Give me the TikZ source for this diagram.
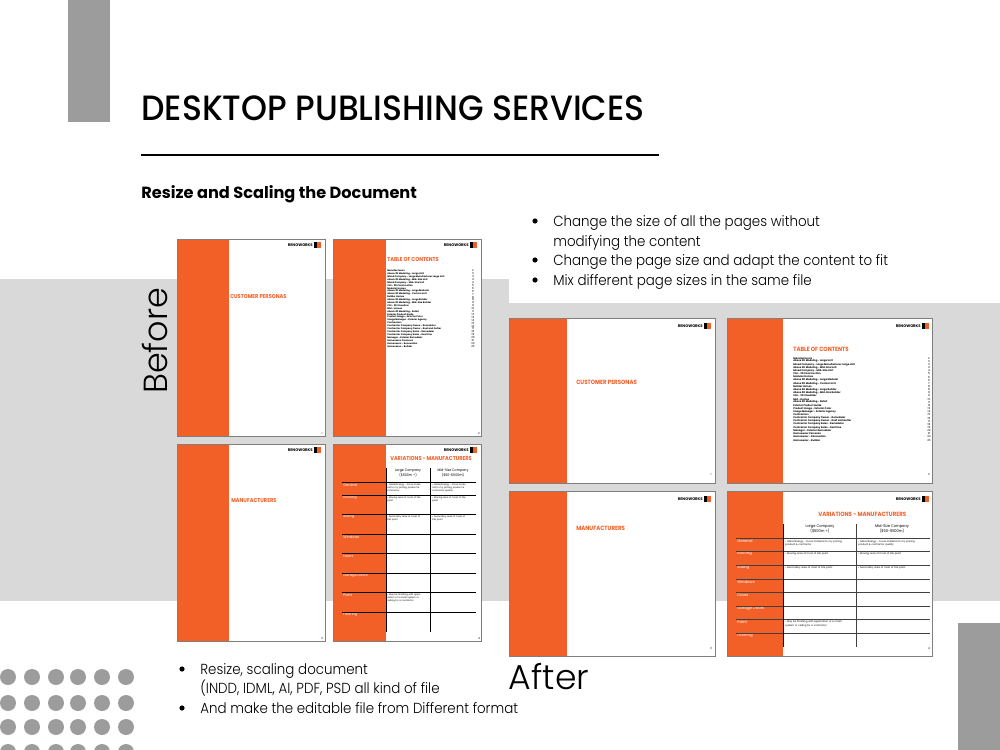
\documentclass[tikz,border=0pt]{standalone}
\usepackage{fontspec}
\setmainfont{Poppins}
\newfontfamily\lightfont{Poppins Light}
\newfontfamily\mediumfont{Poppins Medium}
\usepackage{tikz}

\definecolor{bandgray}{HTML}{D9D9D9}
\definecolor{blockgray}{HTML}{9C9C9C}
\definecolor{pageorange}{HTML}{F26027}
\definecolor{pageedge}{HTML}{7F7F7F}

\tikzset{
  pagebox/.style={draw=pageedge, fill=white, line width=0.45pt},
  pagebar/.style={fill=pageorange},
  headtext/.style={text=pageorange, inner sep=0pt, anchor=west, xscale=0.9, font=\bfseries\fontsize{#1}{#1}\selectfont},
  bullettext/.style={inner sep=0pt, anchor=base west, xscale=0.92, font=\lightfont\fontsize{8.3}{10}\selectfont},
  rowtext/.style={text=white, inner sep=0pt, anchor=west, font=\fontsize{#1}{#1}\selectfont},
  toctext/.style={inner sep=0pt, anchor=west, font=\bfseries\fontsize{#1}{#1}\selectfont},
  cellsmall/.style={inner sep=0pt, anchor=north west, align=left, text width=20pt, font=\fontsize{1.3}{1.8}\selectfont},
  celllarge/.style={inner sep=0pt, anchor=north west, align=left, text width=34pt, font=\fontsize{1.4}{1.9}\selectfont},
  headcell/.style={inner sep=0pt, align=center, xscale=0.92, font=\fontsize{#1}{2.8}\selectfont},
  numtext/.style={inner sep=0pt, font=\fontsize{1.6}{1.6}\selectfont},
}

\newcommand{\pagelogo}[4]{%
  \node[inner sep=0pt, anchor=east, font=\bfseries\fontsize{#4}{#4}\selectfont] (#1) at (#2,#3) {RENOWORKS};
  \fill[black] ([xshift=0.6pt,yshift=-1.6pt]#1.east) rectangle ++(1.8pt,3.4pt);
  \fill[pageorange] ([xshift=2.4pt,yshift=-1.6pt]#1.east) rectangle ++(2pt,3.4pt);
}

\newcommand{\toclist}{Manufacturers/2,Above 3D Modeling - Large Unit/3,Mixed Company - Large Manufacturer Large Unit/3,Above 3D Modeling - Mid-Size Unit/4,Mixed Company - Mid-Size Unit/4,CGI - 3D Construction/5,Modular Homes/6,Above 3D Modeling - Large Modular/6,Above 3D Modeling - Custom Unit/7,Builder Homes/8,Above 3D Modeling - Large Builder/8,Above 3D Modeling - Mid-Size Builder/9,CGI - 3D Visualizer/9,Mid - Homes/10,Above 3D Modeling - Retail/11,Exterior Product Guide/12,Product Image - Exterior Color/13,Image Manager - Exterior Agency/14,Contractors/15,Contractor Company Owner - Remodeler/16,Contractor Company Owner - Roof and Gutter/17,Contractor Company Sales - Remodeler/18,Contractor Company Sales - Roof Line/19,Manager - Exterior Remodeler/20,Homeowner Personas/21,Homeowner - Renovation/22,Homeowner - Builder/23}

\begin{document}
\begin{tikzpicture}[x=0.02cm, y=-0.02cm]
\useasboundingbox (0,0) rectangle (1000,750);
\fill[white] (0,0) rectangle (1000,750);

% Background Bands
\fill[bandgray] (0,279) rectangle (509,601);
\fill[bandgray] (509,303) rectangle (1000,601);
\fill[blockgray] (68,0) rectangle (110,122);
\fill[blockgray] (958,623) rectangle (1000,750);

% Dot Grid
\foreach \dotx in {8,32,56,78,102,126}
  \foreach \doty in {677,703,727,752}
    \fill[blockgray] (\dotx,\doty) circle (8);

% Title
\node[inner sep=0pt, anchor=west, xscale=0.94, font=\mediumfont\fontsize{20}{24}\selectfont] (title) at (141,108) {DESKTOP PUBLISHING SERVICES};
\coordinate (ruleleft) at (141,155);
\coordinate (ruleright) at (659,155);
\draw[line width=0.8pt] (ruleleft) -- (ruleright);
\node[inner sep=0pt, anchor=west, font=\bfseries\fontsize{9.2}{12}\selectfont] (subtitle) at (141,194) {Resize and Scaling the Document};

% Top Bullets
\node[bullettext] (topa) at (553,226) {Change the size of all the pages without};
\node[bullettext] (topb) at (553,246) {modifying the content};
\node[bullettext] (topc) at (553,265) {Change the page size and adapt the content to fit};
\node[bullettext] (topd) at (553,285) {Mix different page sizes in the same file};
\fill (535,221) circle (2.6);
\fill (535,260) circle (2.6);
\fill (535,280) circle (2.6);

% Side Labels
\node[rotate=90, inner sep=0pt, font=\lightfont\fontsize{19}{19}\selectfont] (before) at (155,341) {Before};
\node[inner sep=0pt, font=\lightfont\fontsize{19.7}{19.7}\selectfont] (after) at (549,677) {After};

% Bottom Bullets
\node[bullettext] (lowa) at (200,674) {Resize, scaling document};
\node[bullettext] (lowb) at (200,693) {(INDD, IDML, AI, PDF, PSD all kind of file};
\node[bullettext] (lowc) at (200,713) {And make the editable file from Different format};
\fill (182,669) circle (2.6);
\fill (182,708) circle (2.6);

% Before Page 1
\draw[pagebox] (177,239) rectangle (325,436);
\fill[pagebar] (177.5,239.5) rectangle (229,435.5);
\pagelogo{logoa}{313}{245}{2.15}
\node[headtext=3.2] (persona) at (230,297) {CUSTOMER PERSONAS};
\node[numtext] (numa) at (322,433) {1};

% Before Page 2
\draw[pagebox] (333,239) rectangle (481,436);
\fill[pagebar] (333.5,239.5) rectangle (386,435.5);
\pagelogo{logob}{469}{245}{2.15}
\node[headtext=3.2] (toc) at (387,260) {TABLE OF CONTENTS};
\foreach \item/\num [count=\i] in \toclist {
  \node[toctext=1.3] (toc\i) at (387,268+\i*2.9) {\item};
  \node[numtext] (tocnum\i) at (473,268+\i*2.9) {\num};
}
\node[numtext] (numb) at (479,433) {2};

% Before Page 3
\draw[pagebox] (177,444) rectangle (325,641);
\fill[pagebar] (177.5,444.5) rectangle (229,640.5);
\pagelogo{logoc}{313}{450}{2.15}
\node[headtext=3.2] (maker) at (231,501) {MANUFACTURERS};
\node[numtext] (numc) at (322,638) {3};

% Before Page 4
\draw[pagebox] (333,444) rectangle (481,641);
\fill[pagebar] (333.5,444.5) rectangle (386,640.5);
\pagelogo{logod}{469}{450}{2.15}
\node[headtext=3.2] (vary) at (390,459) {VARIATIONS - MANUFACTURERS};
\node[headcell=2] (largea) at (408,473) {Large Company\\(\$500m +)};
\node[headcell=2] (mida) at (453,473) {Mid-Size Company\\(\$50-\$500m)};
\foreach \rowy/\rowname in {482/General,495/Roofing,514/Siding,534/Windows,553/Doors,573/Garage Doors,592/Paint,612/Flooring} {
  \node[rowtext=2] (rowa\rowname) at (343,\rowy+3) {\rowname};
  \draw[line width=0.45pt] (342,\rowy) -- (476,\rowy);
}
\draw[line width=0.5pt] (386,468) -- (386,632);
\draw[line width=0.5pt] (430,468) -- (430,632);
\node[cellsmall] (cella) at (387,483) {• Glass/Energy - focus material to my pricing product \& contractor};
\node[cellsmall] (cellb) at (432,483) {• Glass/Energy - focus material to my pricing product \& contractor quality};
\node[cellsmall] (cellc) at (387,496) {• Moving area of most of File point};
\node[cellsmall] (celld) at (432,496) {• Moving area of most of File point};
\node[cellsmall] (celle) at (387,515) {• Secondary area of most of File point};
\node[cellsmall] (cellf) at (432,515) {• Secondary area of most of File point};
\node[cellsmall] (cellg) at (387,593) {• May be finishing with application of a small system or ceiling for a contractor};
\node[numtext] (numd) at (479,638) {4};

% After Page 1
\draw[pagebox] (509,318) rectangle (715,483);
\fill[pagebar] (509.5,318.5) rectangle (567,482.5);
\pagelogo{logoe}{703}{326}{2.15}
\node[headtext=3.45] (personb) at (576,382) {CUSTOMER PERSONAS};
\node[numtext] (nume) at (711,474) {1};

% After Page 2
\draw[pagebox] (727,318) rectangle (932,483);
\fill[pagebar] (727.5,318.5) rectangle (783,482.5);
\pagelogo{logof}{921}{326}{2.15}
\node[headtext=3.45] (tocb) at (793,349) {TABLE OF CONTENTS};
\foreach \item/\num [count=\i] in \toclist {
  \node[toctext=1.4] (tocb\i) at (793,355+\i*3.15) {\item};
  \node[numtext] (tocbnum\i) at (929,355+\i*3.15) {\num};
}
\node[numtext] (numf) at (929,474) {2};

% After Page 3
\draw[pagebox] (509,491) rectangle (715,656);
\fill[pagebar] (509.5,491.5) rectangle (567,655.5);
\pagelogo{logog}{703}{499}{2.15}
\node[headtext=3.45] (makerb) at (576,528) {MANUFACTURERS};
\node[numtext] (numg) at (711,648) {3};

% After Page 4
\draw[pagebox] (727,491) rectangle (932,656);
\fill[pagebar] (727.5,491.5) rectangle (783,655.5);
\pagelogo{logoh}{921}{499}{2.15}
\node[headtext=3.45] (varyb) at (818,514) {VARIATIONS - MANUFACTURERS};
\node[headcell=2.2] (largeb) at (820,529) {Large Company\\(\$500m +)};
\node[headcell=2.2] (midb) at (892,529) {Mid-Size Company\\(\$50-\$500m)};
\foreach \rowy/\rowname in {538/General,551/Roofing,565/Siding,579/Windows,592/Doors,606/Garage Doors,619/Paint,633/Flooring} {
  \node[rowtext=2.2] (rowb\rowname) at (737,\rowy+3) {\rowname};
  \draw[line width=0.4pt, black!75] (736,\rowy) -- (930,\rowy);
}
\draw[line width=0.5pt] (783,524) -- (783,647);
\draw[line width=0.4pt, black!75] (856,524) -- (856,647);
\node[celllarge] (cellh) at (785,539.5) {• Glass/Energy - focus material to my pricing product \& contractor};
\node[celllarge] (celli) at (858,539.5) {• Glass/Energy - focus material to my pricing product \& contractor quality};
\node[celllarge] (cellj) at (785,552.5) {• Moving area of most of File point};
\node[celllarge] (cellk) at (858,552.5) {• Moving area of most of File point};
\node[celllarge] (celll) at (785,566.5) {• Secondary area of most of File point};
\node[celllarge] (cellm) at (858,566.5) {• Secondary area of most of File point};
\node[celllarge] (celln) at (785,620.5) {• May be finishing with application of a small system or ceiling for a contractor};
\node[numtext] (numh) at (929,648) {4};

\end{tikzpicture}
\end{document}
